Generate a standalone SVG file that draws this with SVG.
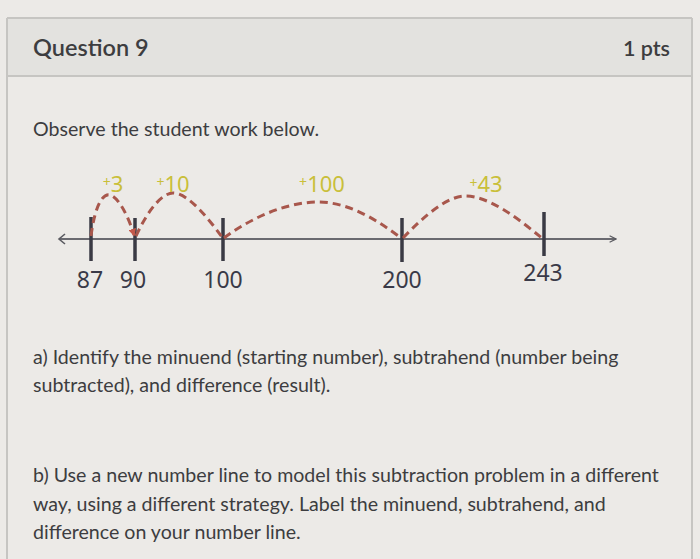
<svg xmlns="http://www.w3.org/2000/svg" width="700" height="559" viewBox="0 0 700 559">
<defs>
<style>
.t{font-family:Lato,"Noto Sans","Liberation Sans",sans-serif;fill:#3d3d40}
.body{font-size:19.6px}
.num{font-family:"Noto Sans","Liberation Sans",sans-serif;font-size:23px;fill:#3a3a48;text-anchor:middle}
.jump{font-family:"Noto Sans","Liberation Sans",sans-serif;font-size:22px;fill:#c9bf3a;text-anchor:middle}
.pl{font-size:14px}
.arc{fill:none;stroke:#a8574c;stroke-width:3;stroke-dasharray:8 5;stroke-linecap:butt}
.tick{stroke:#3a3a44;stroke-width:3.5}
</style>
<marker id="ah" viewBox="0 0 10 10" refX="8" refY="5" markerWidth="2.6" markerHeight="2.6" orient="auto">
<path d="M0,0 L10,5 L0,10 z" fill="#c4584a"/>
</marker>
<marker id="ax" viewBox="0 0 10 10" refX="9" refY="5" markerWidth="8" markerHeight="8" orient="auto" markerUnits="userSpaceOnUse">
<path d="M1,1 L9,5 L1,9" fill="none" stroke="#5a5a60" stroke-width="1.6"/>
</marker>
</defs>
<rect width="700" height="559" fill="#eceae7"/>
<rect x="7" y="18" width="685" height="58" fill="#e3e2df"/>
<path d="M7,18 H692 M7,76 H692 M7,18 V559 M692,18 V559" stroke="#c6c5c2" stroke-width="2" fill="none"/>
<g id="header">
<text class="t" x="33" y="56" font-size="23.5" font-weight="600">Question 9</text>
<text class="t" x="670" y="56" font-size="21.5" font-weight="600" text-anchor="end">1 pts</text>
</g>
<text class="t body" x="33" y="136">Observe the student work below.</text>
<g id="axis">
<line x1="60" y1="239" x2="616" y2="239" stroke="#6a6a70" stroke-width="1.8" marker-end="url(#ax)"/>
<path d="M65,234 L59,239 L65,244" fill="none" stroke="#5a5a60" stroke-width="1.6"/>
</g>
<g id="ticks">
<line class="tick" x1="91" y1="217" x2="91" y2="261"/>
<line class="tick" x1="135" y1="218" x2="135" y2="261"/>
<line class="tick" x1="223" y1="218" x2="223" y2="261"/>
<line class="tick" x1="402" y1="218" x2="402" y2="262"/>
<line class="tick" x1="544" y1="212" x2="544" y2="256"/>
</g>
<g id="connectors">
<path class="arc" d="M91,236 C95,205 103,193 110,195 C118,197 128,215 134,235" marker-end="url(#ah)"/>
<path class="arc" d="M136,236 C148,210 162,193 173,193 C188,193 208,218 222,237"/>
<path class="arc" d="M224,238 C255,215 290,202 318,202 C350,202 380,222 401,238"/>
<path class="arc" d="M403,238 C425,215 448,196 465,196 C490,196 520,220 543,239"/>
</g>
<g id="jump-labels">
<text class="jump" x="113" y="192"><tspan class="pl" dy="-5">+</tspan><tspan dy="5">3</tspan></text>
<text class="jump" x="173" y="192"><tspan class="pl" dy="-5">+</tspan><tspan dy="5">10</tspan></text>
<text class="jump" x="322" y="192"><tspan class="pl" dy="-5">+</tspan><tspan dy="5">100</tspan></text>
<text class="jump" x="486" y="192" font-size="20"><tspan class="pl" dy="-4">+</tspan><tspan dy="4">43</tspan></text>
</g>
<g id="numbers">
<text class="num" x="90" y="288">87</text>
<text class="num" x="133" y="288">90</text>
<text class="num" x="223" y="288">100</text>
<text class="num" x="402" y="288">200</text>
<text class="num" x="543" y="281">243</text>
</g>
<g id="questions">
<text class="t body" x="33" y="364">a) Identify the minuend (starting number), subtrahend (number being</text>
<text class="t body" x="33" y="392">subtracted), and difference (result).</text>
<text class="t body" x="33" y="482">b) Use a new number line to model this subtraction problem in a different</text>
<text class="t body" x="33" y="511">way, using a different strategy. Label the minuend, subtrahend, and</text>
<text class="t body" x="33" y="539">difference on your number line.</text>
</g>
</svg>
